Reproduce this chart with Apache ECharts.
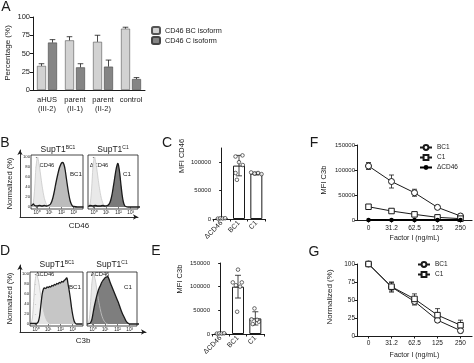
<!DOCTYPE html>
<html><head><meta charset="utf-8">
<script src="https://cdn.jsdelivr.net/npm/echarts@6/dist/echarts.min.js"></script>
<style>html,body{margin:0;padding:0;background:#fff}#c{width:474px;height:363px}</style>
</head><body><div id="c"></div>
<script>
const FONT = '"Liberation Sans", Arial, sans-serif';
const INK = '#1a1a1a';

// ---------- Panel A ----------
const aCategories = ['aHUS\n(III-2)', 'parent\n(II-1)', 'parent\n(II-2)', 'control'];
const aBC = [33, 68, 66, 84];
const aBCErr = [3, 5, 9, 2];
const aC = [65, 31, 32, 15];
const aCErr = [4, 5, 9, 2];

// ---------- Panels B / D (flow histograms; x = log10 intensity, y = % of max) ----------
const boxTickLabels = ['10\u2070', '10\u00b9', '10\u00b2', '10\u00b3'];
const bDelta = [[-0.5,0],[-0.4,2],[-0.3,10],[-0.2,38],[-0.1,78],[0,98],[0.05,100],[0.1,94],[0.2,80],[0.3,62],[0.4,44],[0.5,29],[0.6,17],[0.7,9],[0.8,4],[0.9,1],[1.0,0]];
const bBC1 = [[-0.5,2],[-0.4,4],[-0.3,6],[-0.2,3],[0,2],[0.2,3],[0.4,2],[0.6,3],[0.8,2],[1.0,4],[1.1,6],[1.2,11],[1.3,19],[1.4,30],[1.5,43],[1.6,55],[1.7,66],[1.8,76],[1.9,83],[2.0,88],[2.1,89],[2.2,85],[2.3,74],[2.4,57],[2.5,40],[2.6,25],[2.7,13],[2.8,6],[2.9,2],[3.0,1],[3.3,0],[3.8,0]];
const bC1 = [[-0.5,1],[-0.3,3],[-0.1,2],[0.1,3],[0.3,2],[0.5,2],[0.7,3],[0.9,2],[1.1,3],[1.2,5],[1.3,9],[1.4,17],[1.5,29],[1.6,44],[1.7,60],[1.8,75],[1.9,85],[1.95,87],[2.0,84],[2.1,68],[2.2,45],[2.3,24],[2.4,10],[2.5,3],[2.6,1],[2.8,0],[3.8,0]];
const dDelta = [[-0.5,0],[-0.4,2],[-0.3,12],[-0.2,45],[-0.1,82],[0,99],[0.05,100],[0.1,96],[0.2,86],[0.3,70],[0.4,54],[0.5,40],[0.6,28],[0.7,18],[0.8,11],[0.9,6],[1.0,3],[1.1,1],[1.2,0]];
const dBC1 = [[-0.5,1],[-0.2,1],[0,1],[0.1,2],[0.2,6],[0.3,18],[0.4,40],[0.5,60],[0.6,70],[0.7,72],[0.8,71],[0.9,74],[1.0,73],[1.1,75],[1.2,74],[1.3,77],[1.4,76],[1.5,79],[1.6,78],[1.7,81],[1.8,80],[1.9,83],[2.0,82],[2.1,85],[2.2,84],[2.3,87],[2.4,89],[2.5,92],[2.55,90],[2.6,82],[2.7,68],[2.8,52],[2.9,33],[3.0,18],[3.1,7],[3.2,2],[3.3,0],[3.8,0]];
const dC1 = [[-0.5,0],[-0.3,1],[-0.2,3],[-0.1,9],[0,22],[0.1,35],[0.2,46],[0.3,56],[0.4,65],[0.5,72],[0.6,77],[0.7,83],[0.8,87],[0.9,90],[1.0,93],[1.1,94],[1.2,95],[1.3,90],[1.4,83],[1.5,77],[1.6,71],[1.7,65],[1.8,59],[1.9,53],[2.0,47],[2.1,41],[2.2,34],[2.3,27],[2.4,21],[2.5,16],[2.6,11],[2.7,6],[2.8,3],[2.9,1],[3.0,0],[3.8,0]];

// ---------- Panels C / E (x of each dot = category index + jitter) ----------
const cellLines = ['\u0394CD46', 'BC1', 'C1'];
const cMean = [1000, 94000, 80000];
const cSD = [300, 18000, 2500];
const cDots = [[-0.22,700],[-0.08,1200],[0.06,900],[0.2,1400],
  [0.8,110000],[1.2,112000],[1.0,100000],[1.22,95000],[0.8,81000],[0.88,69000],
  [1.7,82000],[1.9,80000],[2.1,81000],[2.3,79000]];
const eMean = [1000, 100000, 33000];
const eSD = [300, 24000, 14000];
const eDots = [[-0.22,800],[-0.08,1300],[0.06,1000],[0.2,1500],
  [1.0,136000],[0.7,109000],[1.22,109000],[0.88,103000],[1.12,100000],[0.95,47000],
  [1.95,54000],[1.78,31000],[2.2,26000],[2.1,30000],[1.85,21000]];

// ---------- Panels F / G ----------
const factorI = ['0', '31.2', '62.5', '125', '250'];
const fBC1 = [108000, 77000, 54500, 25300, 8000];
const fBC1Err = [7000, 13000, 7000, 2500, 1500];
const fC1 = [26500, 18000, 11300, 5300, 2700];
const fC1Err = [1500, 1200, 1000, 800, 500];
const fDelta = [0, 0, 0, 0, 0];
const gBC1 = [100, 68, 48, 22, 7.5];
const gBC1Err = [0, 7, 5, 3, 3];
const gC1 = [100, 68.5, 51.5, 29, 15];
const gC1Err = [0, 6, 7, 9, 7];

// ================= build option =================
const lbl = (o) => Object.assign({color: INK, fontFamily: FONT}, o);
const line = {lineStyle: {color: INK, width: 1}};

function errorBars(xi, yi, vals, errs, offset, capW, both, z) {
  return {
    type: 'custom', xAxisIndex: xi, yAxisIndex: yi, z: z || 5, silent: true,
    data: vals.map((v, i) => [i, v, errs[i]]),
    renderItem: (params, api) => {
      const i = api.value(0), v = api.value(1), e = api.value(2);
      if (!e) return null;
      const c = api.coord([i, v]);
      const t = api.coord([i, v + e]);
      const b = both ? api.coord([i, v - e]) : c;
      const x = c[0] + offset;
      const st = {stroke: INK, lineWidth: 0.8};
      const ch = [
        {type: 'line', shape: {x1: x, y1: b[1], x2: x, y2: t[1]}, style: st},
        {type: 'line', shape: {x1: x - capW, y1: t[1], x2: x + capW, y2: t[1]}, style: st}
      ];
      if (both) ch.push({type: 'line', shape: {x1: x - capW, y1: b[1], x2: x + capW, y2: b[1]}, style: st});
      return {type: 'group', children: ch};
    }
  };
}

const grids = [
  {left: 33, top: 17, width: 112, height: 73},                 // 0 A
  {left: 20, top: 150, width: 118, height: 67},                // 1 B outer
  {left: 31, top: 155, width: 52, height: 54, show: true, borderColor: INK, borderWidth: 0.8, backgroundColor: 'rgba(0,0,0,0)'}, // 2
  {left: 88, top: 155, width: 50, height: 54, show: true, borderColor: INK, borderWidth: 0.8, backgroundColor: 'rgba(0,0,0,0)'}, // 3
  {left: 213, top: 148, width: 52, height: 71},                // 4 C
  {left: 20, top: 265, width: 126, height: 67},                // 5 D outer
  {left: 30, top: 272, width: 53, height: 54, show: true, borderColor: INK, borderWidth: 0.8, backgroundColor: 'rgba(0,0,0,0)'}, // 6
  {left: 87, top: 272, width: 50, height: 54, show: true, borderColor: INK, borderWidth: 0.8, backgroundColor: 'rgba(0,0,0,0)'}, // 7
  {left: 212, top: 263, width: 52, height: 71},                // 8 E
  {left: 357, top: 145, width: 115, height: 75},               // 9 F
  {left: 357, top: 264, width: 115, height: 72}                // 10 G
].map(g => Object.assign({outerBoundsMode: 'none', containLabel: false}, g));

function outerX(gi, name) {
  return {type: 'value', gridIndex: gi, min: 0, max: 1, name, nameLocation: 'middle', nameGap: 5,
    nameTextStyle: lbl({fontSize: 8}),
    axisLine: {show: true, symbol: ['none', 'arrow'], symbolSize: [4, 5], lineStyle: {color: INK, width: 0.9}},
    axisTick: {show: false}, axisLabel: {show: false}, splitLine: {show: false}};
}
function outerY(gi) {
  return {type: 'value', gridIndex: gi, min: 0, max: 1, name: 'Normalized (%)', nameLocation: 'middle', nameGap: 6, nameRotate: 90,
    nameTextStyle: lbl({fontSize: 7.5}),
    axisLine: {show: true, symbol: ['none', 'arrow'], symbolSize: [4, 5], lineStyle: {color: INK, width: 0.9}},
    axisTick: {show: false}, axisLabel: {show: false}, splitLine: {show: false}};
}
function boxX(gi, max) {
  return {type: 'value', gridIndex: gi, min: -0.5, max,
    axisLine: {show: false}, splitLine: {show: false},
    axisTick: {show: true, length: 1.5, customValues: [0, 1, 2, 3], lineStyle: {color: INK, width: 0.6}},
    axisLabel: {show: true, customValues: [0, 1, 2, 3], formatter: v => boxTickLabels[Math.round(v)], fontSize: 4.6, margin: 1.5, color: INK, fontFamily: FONT}};
}
function boxY(gi, showLabels) {
  return {type: 'value', gridIndex: gi, min: -4, max: 104,
    axisLine: {show: false}, splitLine: {show: false},
    axisTick: {show: true, length: 1.2, customValues: [0, 20, 40, 60, 80, 100], lineStyle: {color: INK, width: 0.6}},
    axisLabel: {show: showLabels, customValues: [0, 20, 40, 60, 80, 100], fontSize: 4.2, margin: 1, color: INK, fontFamily: FONT}};
}
function dotCatX(gi) {
  return {type: 'category', gridIndex: gi, data: cellLines,
    axisLine: line, axisTick: {show: true, length: 2.5, lineStyle: {color: INK}},
    axisLabel: lbl({fontSize: 7, rotate: 45, margin: 3, interval: 0})};
}
function dotValX(gi) {
  return {type: 'value', gridIndex: gi, min: -0.5, max: 2.5, show: false};
}
function mfiY(gi, max, showMax) {
  return {type: 'value', gridIndex: gi, min: 0, max, interval: 50000,
    axisLine: Object.assign({show: true}, line), axisTick: {show: true, length: 2.5, lineStyle: {color: INK}},
    splitLine: {show: false}, axisLabel: lbl({fontSize: 6, margin: 2, showMaxLabel: showMax, formatter: v => String(v)})};
}
function factorX(gi, margin, nameGap) {
  return {type: 'category', gridIndex: gi, data: factorI, name: 'Factor I (ng/mL)', nameLocation: 'middle', nameGap,
    nameTextStyle: lbl({fontSize: 7}),
    axisLine: {lineStyle: {color: INK, width: 1.2}}, axisTick: {show: true, alignWithLabel: true, length: 2.5, lineStyle: {color: INK}},
    axisLabel: lbl({fontSize: 6.5, margin, interval: 0})};
}

const xAxes = [
  {type: 'category', gridIndex: 0, data: aCategories, axisLine: line, axisTick: {show: false},
    axisLabel: lbl({fontSize: 7.5, lineHeight: 9, margin: 5, interval: 0})},  // 0
  outerX(1, 'CD46'),   // 1
  boxX(2, 3.76),       // 2
  boxX(3, 3.6),        // 3
  dotCatX(4),          // 4
  dotValX(4),          // 5
  outerX(5, 'C3b'),    // 6
  boxX(6, 3.84),       // 7
  boxX(7, 3.6),        // 8
  dotCatX(8),          // 9
  dotValX(8),          // 10
  factorX(9, 5, 15),   // 11
  factorX(10, 4, 16)   // 12
];
const yAxes = [
  {type: 'value', gridIndex: 0, min: 0, max: 100, interval: 25, axisLine: Object.assign({show: true}, line),
    axisTick: {show: true, length: 3, lineStyle: {color: INK}}, splitLine: {show: false}, axisLabel: lbl({fontSize: 7.5, margin: 3})}, // 0
  outerY(1),          // 1
  boxY(2, true),      // 2
  boxY(3, false),     // 3
  mfiY(4, 125000, false), // 4
  outerY(5),          // 5
  boxY(6, true),      // 6
  boxY(7, false),     // 7
  mfiY(8, 150000, true),  // 8
  mfiY(9, 150000, true),  // 9
  {type: 'value', gridIndex: 10, min: 0, max: 100, interval: 25, axisLine: Object.assign({show: true}, line),
    axisTick: {show: true, length: 2.5, lineStyle: {color: INK}}, splitLine: {show: false}, axisLabel: lbl({fontSize: 6.5, margin: 2})} // 10
];

function hist(xi, data, fill, stroke, lw, opacity, z) {
  return {type: 'line', xAxisIndex: xi, yAxisIndex: xi === 7 ? 6 : xi === 8 ? 7 : xi, data, showSymbol: false, symbol: 'none',
    smooth: 0.25, silent: true, z: z || 2,
    lineStyle: {color: stroke || 'rgba(0,0,0,0)', width: stroke ? lw : 0},
    areaStyle: fill ? {color: fill, opacity: opacity == null ? 1 : opacity} : undefined};
}

const series = [
  // A
  {type: 'bar', name: 'CD46 BC isoform', xAxisIndex: 0, yAxisIndex: 0, data: aBC, barWidth: 9, barGap: '22%',
    itemStyle: {color: '#d2d2d2', borderColor: '#555', borderWidth: 0.6}},
  {type: 'bar', name: 'CD46 C isoform', xAxisIndex: 0, yAxisIndex: 0, data: aC, barWidth: 9, barGap: '22%',
    itemStyle: {color: '#858585', borderColor: '#444', borderWidth: 0.6}},
  errorBars(0, 0, aBC, aBCErr, -5.5, 2.8, false),
  errorBars(0, 0, aC, aCErr, 5.5, 2.8, false),
  // B box 1
  hist(2, bDelta, '#e9e9e9', '#c9c9c9', 0.8),
  hist(2, bBC1, '#bcbcbc', INK, 1.3),
  // B box 2
  hist(3, bDelta, '#e9e9e9', '#c9c9c9', 0.8),
  hist(3, bC1, '#7a7a7a', INK, 1.3),
  // C
  {type: 'bar', xAxisIndex: 4, yAxisIndex: 4, data: cMean, barWidth: 12, itemStyle: {color: '#fff', borderColor: INK, borderWidth: 1}},
  errorBars(4, 4, cMean, cSD, 0, 3, true, 6),
  {type: 'scatter', xAxisIndex: 5, yAxisIndex: 4, data: cDots, symbol: 'circle', symbolSize: 3.6, z: 7,
    itemStyle: {color: '#fff', borderColor: INK, borderWidth: 0.8}},
  // D box 1
  hist(7, dBC1, '#c6c6c6', null, 0),
  hist(7, dDelta, '#ececec', '#c4c4c4', 0.8, 0.75),
  hist(7, dBC1, null, INK, 1.3),
  // D box 2
  hist(8, dDelta, '#e9e9e9', '#c4c4c4', 0.8),
  hist(8, dC1, '#7e7e7e', INK, 1.3),
  // E
  {type: 'bar', xAxisIndex: 9, yAxisIndex: 8, data: eMean, barWidth: 12, itemStyle: {color: '#fff', borderColor: INK, borderWidth: 1}},
  errorBars(9, 8, eMean, eSD, 0, 3, true, 6),
  {type: 'scatter', xAxisIndex: 10, yAxisIndex: 8, data: eDots, symbol: 'circle', symbolSize: 3.6, z: 7,
    itemStyle: {color: '#fff', borderColor: INK, borderWidth: 0.8}},
  // F
  errorBars(11, 9, fBC1, fBC1Err, 0, 2.5, true, 1),
  errorBars(11, 9, fC1, fC1Err, 0, 2.5, true, 1),
  {type: 'line', name: 'BC1', xAxisIndex: 11, yAxisIndex: 9, data: fBC1, symbol: 'circle', symbolSize: 6, z: 3,
    lineStyle: {color: INK, width: 1}, itemStyle: {color: '#fff', borderColor: INK, borderWidth: 1}},
  {type: 'line', name: 'C1', xAxisIndex: 11, yAxisIndex: 9, data: fC1, symbol: 'rect', symbolSize: 5.5, z: 3,
    lineStyle: {color: INK, width: 1}, itemStyle: {color: '#fff', borderColor: INK, borderWidth: 1}},
  {type: 'line', name: '\u0394CD46', xAxisIndex: 11, yAxisIndex: 9, data: fDelta, symbol: 'circle', symbolSize: 4.5, z: 4,
    lineStyle: {color: '#000', width: 2}, itemStyle: {color: '#000', borderColor: '#000', borderWidth: 0}},
  // G
  errorBars(12, 10, gBC1, gBC1Err, 0, 2.5, true, 1),
  errorBars(12, 10, gC1, gC1Err, 0, 2.5, true, 1),
  {type: 'line', name: 'BC1', xAxisIndex: 12, yAxisIndex: 10, data: gBC1, symbol: 'circle', symbolSize: 6, z: 3,
    lineStyle: {color: INK, width: 1}, itemStyle: {color: '#fff', borderColor: INK, borderWidth: 1}},
  {type: 'line', name: 'C1', xAxisIndex: 12, yAxisIndex: 10, data: gC1, symbol: 'rect', symbolSize: 5.5, z: 3,
    lineStyle: {color: INK, width: 1}, itemStyle: {color: '#fff', borderColor: INK, borderWidth: 1}}
];

const legBase = {orient: 'vertical', selectedMode: false, padding: 0, textStyle: lbl({fontSize: 6.5})};
const legends = [
  Object.assign({}, legBase, {left: 151, top: 26, itemWidth: 8, itemHeight: 7, itemGap: 1, data: ['CD46 BC isoform', 'CD46 C isoform'],
    textStyle: lbl({fontSize: 7.3})}),
  Object.assign({}, legBase, {left: 419, top: 144, itemWidth: 12, itemHeight: 6, itemGap: 3, data: ['BC1', 'C1', '\u0394CD46']}),
  Object.assign({}, legBase, {left: 417, top: 261, itemWidth: 12, itemHeight: 6, itemGap: 3, data: ['BC1', 'C1']})
];

function txt(x, y, text, size, extra) {
  return Object.assign({type: 'text', x, y, silent: true,
    style: {text, fontSize: size, fontFamily: FONT, fill: INK, align: 'center', verticalAlign: 'middle'}}, extra || {});
}
function vtxt(x, y, text, size) {
  return txt(x, y, text, size, {rotation: Math.PI / 2});
}
function supTitle(x, y, sup) {
  return {type: 'text', x, y, silent: true,
    style: {text: '{a|SupT1}{b|' + sup + '}', align: 'center', verticalAlign: 'middle', fill: INK,
      rich: {a: {fontSize: 8.5, fontFamily: FONT, fill: INK, lineHeight: 10},
             b: {fontSize: 5, fontFamily: FONT, fill: INK, verticalAlign: 'top', padding: [0, 0, 5, 0]}}}};
}

const graphic = [
  txt(6, 7, 'A', 14), txt(5, 143, 'B', 14), txt(167, 143, 'C', 14), txt(5, 251, 'D', 14),
  txt(156, 251, 'E', 14), txt(314, 143, 'F', 14), txt(314, 252, 'G', 14),
  vtxt(8, 53, 'Percentage (%)', 8),
  vtxt(182, 156, 'MFI CD46', 7.5), vtxt(180, 279, 'MFI C3b', 7.5),
  vtxt(324, 180, 'MFI C3b', 7.5), vtxt(330, 297, 'Normalized (%)', 8),
  supTitle(58, 150, 'BC1'), supTitle(113, 150, 'C1'),
  supTitle(57, 265, 'BC1'), supTitle(112, 265, 'C1'),
  txt(45, 165, '\u0394CD46', 5.8), txt(76, 174, 'BC1', 6.2),
  txt(99, 165, '\u0394CD46', 5.8), txt(127, 174, 'C1', 6.2),
  txt(45, 274, '\u0394CD46', 5.8), txt(75, 287, 'BC1', 6.2),
  txt(100, 274, '\u0394CD46', 5.8), txt(128, 287, 'C1', 6.2)
];

const chart = echarts.init(document.getElementById('c'), null, {renderer: 'canvas'});
chart.setOption({
  animation: false,
  backgroundColor: '#fff',
  textStyle: {fontFamily: FONT, color: INK},
  grid: grids, xAxis: xAxes, yAxis: yAxes, series, legend: legends, graphic
});
</script></body></html>
